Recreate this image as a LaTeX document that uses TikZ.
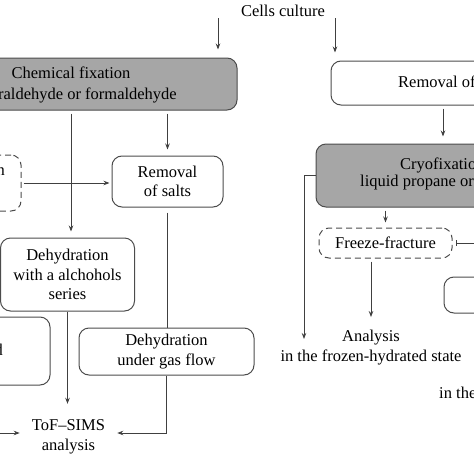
\documentclass[tikz,border=0pt]{standalone}
\usepackage{fontspec}
\setmainfont{Liberation Serif}
\usetikzlibrary{arrows.meta}

\begin{document}
\begin{tikzpicture}[x=1pt,y=-1pt,
    box/.style={draw=black!70,line width=1pt,rounded corners=10pt,inner sep=0pt},
    fixbox/.style={box,fill=black!35},
    dbox/.style={box,dash pattern=on 6pt off 4pt},
    txt/.style={font=\fontsize{16.5}{19.5}\selectfont,align=center,inner sep=0pt},
    ln/.style={draw=black!75,line width=0.9pt},
    arr/.style={ln,-{Stealth[length=6pt,width=4.5pt]}}]
    \useasboundingbox (0,0) rectangle (474,474);
    \clip (0,0) rectangle (474,474);
    % top
    \node[txt] (cells) at (283,11) {Cells culture};
    \coordinate (inL) at (218,18);
    \coordinate (inR) at (335,18);
    % chemical fixation branch
    \node[fixbox,minimum width=332pt,minimum height=52pt] (chem) at (71,84) {};
    \node[txt] (chemA) at (71,73) {Chemical fixation};
    \node[txt,anchor=east] (chemB) at (177,95) {raldehyde or formaldehyde};
    \node[dbox,minimum width=122pt,minimum height=56pt] (cut) at (-40,183) {};
    \node[txt,anchor=east] (cutT) at (5,172) {n};
    \node[box,txt,minimum width=111pt,minimum height=51pt] (salts) at (167.5,181.5) {Removal\\of salts};
    \node[box,txt,minimum width=134pt,minimum height=73pt] (dehA) at (67.5,274.5) {Dehydration\\with a alchohols\\series};
    \node[box,minimum width=140pt,minimum height=68pt] (sideL) at (-20,351) {};
    \node[txt,anchor=east] (sideT) at (3,350) {d};
    \node[box,txt,minimum width=175pt,minimum height=47pt] (dehB) at (166.5,351.5) {Dehydration\\under gas flow};
    \node[txt] (tof) at (68.5,437) {ToF--SIMS\\analysis};
    \coordinate (inBL) at (-5,433);
    \draw[arr,shorten >=8pt] (inL) -- (inL |- chem.north);
    \draw[arr,shorten <=3pt,shorten >=6pt] (chem.south) -- (chem.south |- dehA.north);
    \draw[arr,shorten <=3pt,shorten >=6pt] (chem.south -| salts.north) -- (salts.north);
    \draw[arr,shorten <=2pt,shorten >=2pt] (cut.east) -- (cut.east -| salts.west);
    \draw[ln,shorten <=5pt] (salts.south) -- (salts.south |- dehB.north);
    \draw[arr,shorten >=16pt] (dehA.south) -- (dehA.south |- tof.north);
    \draw[arr,shorten >=12pt] (inBL) -- (inBL -| tof.west);
    \draw[arr,shorten >=12pt] (dehB.south) |- (tof.east |- inBL);
    % cryofixation branch
    \node[box,minimum width=224pt,minimum height=44pt] (remR) at (443,83) {};
    \node[txt,anchor=west] (remT) at (398,82) {Removal of};
    \node[fixbox,minimum width=254pt,minimum height=63pt] (cryo) at (443,175.5) {};
    \node[txt,anchor=west] (cryoA) at (400,165) {Cryofixation};
    \node[txt,anchor=west] (cryoB) at (360,183) {liquid propane or};
    \node[dbox,txt,minimum width=133pt,minimum height=30pt] (ff) at (385.5,243) {Freeze-fracture};
    \node[box,minimum width=132pt,minimum height=36pt] (sideR) at (510,295) {};
    \node[txt] (ana) at (371,347.5) {Analysis\\in the frozen-hydrated state};
    \node[txt,anchor=west] (inthe) at (439,393) {in the};
    \coordinate (inFF) at (490,243);
    \coordinate (cryoL) at (304,339);
    \draw[arr,shorten >=8pt] (inR) -- (inR |- remR.north);
    \draw[arr,shorten <=3pt,shorten >=7pt] (remR.south) -- (cryo.north);
    \draw[arr] (cryo.west) -| (cryoL);
    \draw[arr,shorten <=3pt,shorten >=5pt] (cryo.south -| ff.north) -- (ff.north);
    \draw[arr,shorten <=3pt,shorten >=13pt] (ff.south -| ana.north) -- (ana.north);
    \draw[ln,-{Bar[width=6pt]},shorten >=3pt] (inFF) -- (ff.east);
\end{tikzpicture}
\end{document}
